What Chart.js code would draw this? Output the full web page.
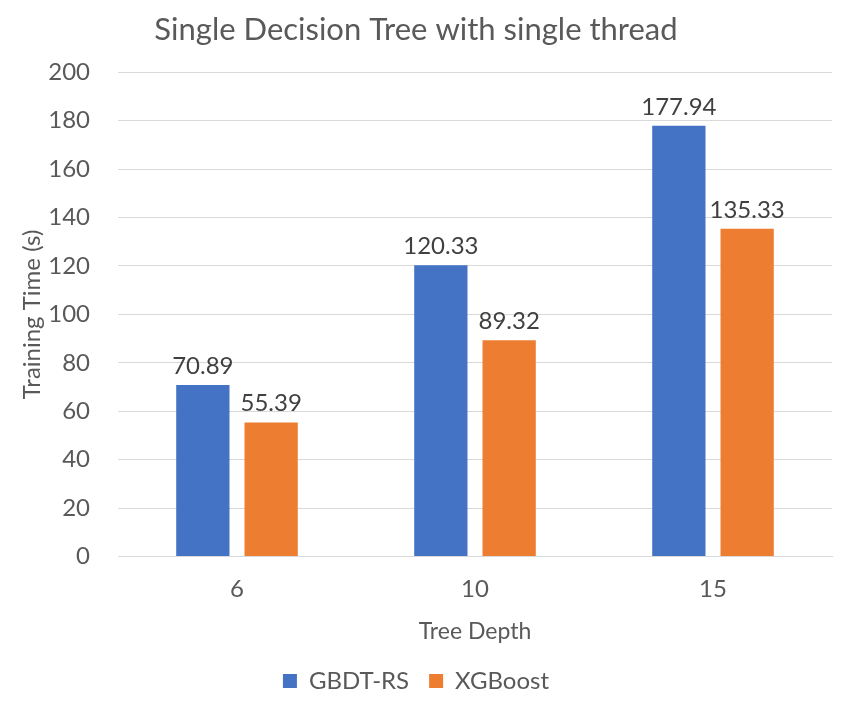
<!DOCTYPE html>
<html>
<head>
<meta charset="utf-8">
<script src="https://cdn.jsdelivr.net/npm/chart.js@4"></script>
<style>
  body { margin: 0; background: #fff; }
  #chart { display: block; }
</style>
</head>
<body>
<canvas id="chart" width="843" height="705"></canvas>
<script>
// Chart data
const depths = ['6', '10', '15'];
const gbdtTimes = [70.89, 120.33, 177.94];
const xgbTimes = [55.39, 89.32, 135.33];

const textColor = '#595959';
const fontFamily = 'Lato, "Open Sans", sans-serif';

// Draw value labels above each bar
const valueLabels = {
  id: 'valueLabels',
  afterDatasetsDraw(chart) {
    const ctx = chart.ctx;
    ctx.save();
    ctx.font = '24px ' + fontFamily;
    ctx.fillStyle = '#404040';
    ctx.textAlign = 'center';
    ctx.textBaseline = 'alphabetic';
    chart.data.datasets.forEach((ds, i) => {
      chart.getDatasetMeta(i).data.forEach((bar, j) => {
        ctx.fillText(ds.data[j].toFixed(2), bar.x, bar.y - 11);
      });
    });
    ctx.restore();
  }
};

new Chart(document.getElementById('chart'), {
  type: 'bar',
  data: {
    labels: depths,
    datasets: [
      {
        label: 'GBDT-RS',
        data: gbdtTimes,
        backgroundColor: '#4472C4',
        categoryPercentage: 0.574,
        barPercentage: 0.78
      },
      {
        label: 'XGBoost',
        data: xgbTimes,
        backgroundColor: '#ED7D31',
        categoryPercentage: 0.574,
        barPercentage: 0.78
      }
    ]
  },
  options: {
    responsive: false,
    animation: false,
    layout: { padding: { left: 0, right: 11, bottom: 2 } },
    plugins: {
      title: {
        display: true,
        text: 'Single Decision Tree with single thread',
        color: textColor,
        font: { family: fontFamily, size: 31, weight: 'normal' },
        padding: { top: 11, bottom: 24 }
      },
      legend: {
        position: 'bottom',
        labels: {
          color: textColor,
          font: { family: fontFamily, size: 24 },
          boxWidth: 14,
          boxHeight: 14,
          padding: 20
        }
      },
      tooltip: { enabled: false }
    },
    scales: {
      x: {
        grid: { display: false },
        border: { color: '#d9d9d9' },
        ticks: { color: textColor, font: { family: fontFamily, size: 24 }, padding: 10 },
        title: {
          display: true,
          text: 'Tree Depth',
          color: textColor,
          font: { family: fontFamily, size: 23 },
          padding: { top: 4, bottom: 4 }
        }
      },
      y: {
        min: 0,
        max: 200,
        ticks: {
          stepSize: 20,
          color: textColor,
          font: { family: fontFamily, size: 24 },
          padding: 28
        },
        grid: { color: '#d9d9d9', drawTicks: false },
        border: { display: false },
        title: {
          display: true,
          text: 'Training Time (s)',
          color: textColor,
          font: { family: fontFamily, size: 24 },
          padding: { top: 18, bottom: 4 }
        },
        afterFit(scale) { scale.width = 118; }
      }
    }
  },
  plugins: [valueLabels]
});
</script>
</body>
</html>
